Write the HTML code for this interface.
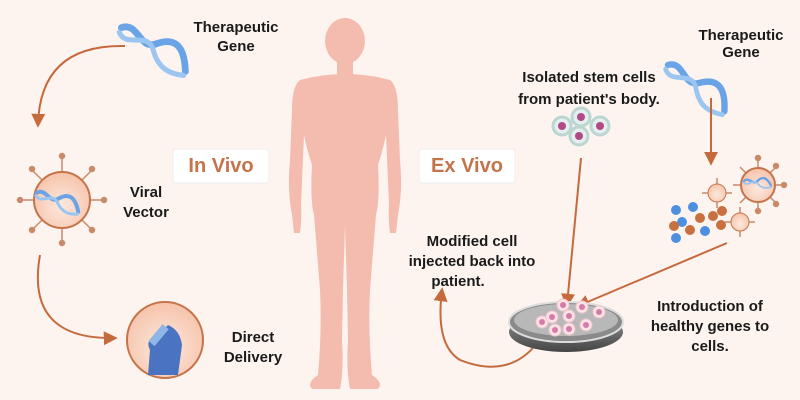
<!DOCTYPE html>
<html><head><meta charset="utf-8"><style>
html,body{margin:0;padding:0;background:#fdf4ef;}
svg{display:block}
text{font-family:"Liberation Sans","DejaVu Sans",sans-serif;font-weight:bold;fill:#1a1a1a;font-size:15px}
</style></head><body>
<svg width="800" height="400" viewBox="0 0 800 400" xmlns="http://www.w3.org/2000/svg">
<defs>
<marker id="ar" viewBox="0 0 10 10" refX="8" refY="5" markerWidth="7" markerHeight="7" orient="auto"><path d="M0,0L10,5L0,10z" fill="#c56a3d"/></marker>
<radialGradient id="cg" cx="50%" cy="60%" r="60%"><stop offset="0" stop-color="#fde9df"/><stop offset="1" stop-color="#f6c3aa"/></radialGradient>
<linearGradient id="dish" x1="0" x2="0" y1="0" y2="1"><stop offset="0" stop-color="#9a9a9a"/><stop offset="1" stop-color="#444"/></linearGradient>
<g id="dna"><path d="M0,10 C15,-5 30,25 45,10 S75,-5 90,25" stroke="#6aa4e6" stroke-width="8" fill="none" stroke-linecap="round"/><path d="M0,16 C15,30 30,0 45,18 S75,35 90,30" stroke="#9cc6f2" stroke-width="6" fill="none" stroke-linecap="round"/></g>
</defs>
<rect width="800" height="400" fill="#fdf4ef"/>
<!-- body -->
<g fill="#f4bcae">
<ellipse cx="345" cy="41" rx="20" ry="23"/>
<rect x="337" y="56" width="16" height="22"/>
<path d="M300,80 Q345,68 390,80 Q398,86 398,110 L400,160 Q403,190 398,215 L396,233 L390,233 Q388,220 389,205 L386,135 Q383,150 378,165 Q380,200 376,215 L370,290 Q368,330 372,375 Q384,383 378,389 L350,389 Q346,370 348,340 L347,290 L345,225 L343,290 L342,340 Q344,370 340,389 L312,389 Q306,383 318,375 Q322,330 320,290 L314,215 Q310,200 312,165 Q307,150 304,135 L301,205 Q302,220 300,233 L294,233 L292,215 Q287,190 290,160 L292,110 Q292,86 300,80z"/>
</g>
<!-- labels In Vivo / Ex Vivo -->
<rect x="173" y="149" width="96" height="34" rx="3" fill="#fff" stroke="#eee"/>
<text x="221" y="172" text-anchor="middle" style="font-size:20px;fill:#c5744a;font-weight:bold">In Vivo</text>
<rect x="419" y="149" width="96" height="34" rx="3" fill="#fff" stroke="#eee"/>
<text x="467" y="172" text-anchor="middle" style="font-size:20px;fill:#c5744a;font-weight:bold">Ex Vivo</text>
<!-- left dna -->
<use href="#dna" transform="translate(125,20) rotate(25) scale(0.85)"/>
<text x="236" y="32" text-anchor="middle">Therapeutic</text>
<text x="236" y="51" text-anchor="middle">Gene</text>
<path d="M125,46 Q40,44 38,125" stroke="#c56a3d" stroke-width="2" fill="none" marker-end="url(#ar)"/>
<!-- viral vector -->
<g stroke="#c98a6a" stroke-width="1.5" fill="#c98a6a">
<line x1="62" y1="157" x2="62" y2="243"/><line x1="20" y1="200" x2="104" y2="200"/>
<line x1="32" y1="170" x2="92" y2="230"/><line x1="92" y1="170" x2="32" y2="230"/>
<circle cx="62" cy="156" r="2.5"/><circle cx="62" cy="243" r="2.5"/><circle cx="20" cy="200" r="2.5"/><circle cx="104" cy="200" r="2.5"/>
<circle cx="32" cy="169" r="2.5"/><circle cx="92" cy="169" r="2.5"/><circle cx="32" cy="230" r="2.5"/><circle cx="92" cy="230" r="2.5"/>
</g>
<circle cx="62" cy="200" r="28" fill="url(#cg)" stroke="#c5744a" stroke-width="2"/>
<use href="#dna" transform="translate(38,188) rotate(15) scale(0.5)"/>
<text x="146" y="197" text-anchor="middle">Viral</text>
<text x="146" y="217" text-anchor="middle">Vector</text>
<path d="M40,255 Q25,340 115,338" stroke="#c56a3d" stroke-width="2" fill="none" marker-end="url(#ar)"/>
<!-- direct delivery -->
<circle cx="165" cy="340" r="38" fill="url(#cg)" stroke="#c5744a" stroke-width="2"/>
<path d="M148,375 L150,350 Q145,340 155,338 L168,325 Q180,330 182,345 L178,375z" fill="#4a73c2"/>
<rect x="155" y="325" width="8" height="22" fill="#8fb6e6" transform="rotate(40 160 335)"/>
<text x="253" y="342" text-anchor="middle">Direct</text>
<text x="253" y="362" text-anchor="middle">Delivery</text>
<!-- ex vivo right -->
<text x="741" y="40" text-anchor="middle">Therapeutic</text>
<text x="741" y="57" text-anchor="middle">Gene</text>
<use href="#dna" transform="translate(672,58) rotate(30) scale(0.8)"/>
<line x1="711" y1="98" x2="711" y2="163" stroke="#c56a3d" stroke-width="2" marker-end="url(#ar)"/>
<text x="589" y="82" text-anchor="middle">Isolated stem cells</text>
<text x="589" y="104" text-anchor="middle">from patient's body.</text>
<g stroke="#bcd6d2" stroke-width="3" fill="#e3f0ee">
<circle cx="581" cy="117" r="9"/><circle cx="562" cy="126" r="9"/><circle cx="600" cy="126" r="9"/><circle cx="579" cy="136" r="9"/>
</g>
<g fill="#b24a87"><circle cx="581" cy="117" r="4"/><circle cx="562" cy="126" r="4"/><circle cx="600" cy="126" r="4"/><circle cx="579" cy="136" r="4"/></g>
<line x1="581" y1="158" x2="567" y2="305" stroke="#c56a3d" stroke-width="2" marker-end="url(#ar)"/>
<!-- viruses cluster -->
<g stroke="#c98a6a" stroke-width="1.5" fill="#c98a6a">
<line x1="758" y1="160" x2="758" y2="210"/><line x1="733" y1="185" x2="783" y2="185"/><line x1="740" y1="167" x2="776" y2="203"/><line x1="776" y1="167" x2="740" y2="203"/>
<circle cx="758" cy="158" r="2.5"/><circle cx="758" cy="211" r="2.5"/><circle cx="784" cy="185" r="2.5"/><circle cx="776" cy="166" r="2.5"/><circle cx="776" cy="204" r="2.5"/>
<line x1="717" y1="178" x2="717" y2="208"/><line x1="702" y1="193" x2="732" y2="193"/>
<line x1="740" y1="207" x2="740" y2="237"/><line x1="725" y1="222" x2="755" y2="222"/>
</g>
<circle cx="758" cy="185" r="17" fill="url(#cg)" stroke="#c5744a" stroke-width="2"/>
<use href="#dna" transform="translate(744,178) scale(0.3)"/>
<circle cx="717" cy="193" r="9" fill="url(#cg)" stroke="#c5744a"/>
<circle cx="740" cy="222" r="9" fill="url(#cg)" stroke="#c5744a"/>
<g fill="#4d8fe0"><circle cx="676" cy="210" r="5"/><circle cx="693" cy="207" r="5"/><circle cx="682" cy="222" r="5"/><circle cx="705" cy="231" r="5"/><circle cx="676" cy="238" r="5"/></g>
<g fill="#c8703f"><circle cx="700" cy="218" r="5"/><circle cx="713" cy="216" r="5"/><circle cx="722" cy="211" r="5"/><circle cx="674" cy="226" r="5"/><circle cx="690" cy="230" r="5"/><circle cx="721" cy="225" r="5"/></g>
<line x1="727" y1="243" x2="578" y2="306" stroke="#c56a3d" stroke-width="2" marker-end="url(#ar)"/>
<text x="710" y="311" text-anchor="middle">Introduction of</text>
<text x="710" y="331" text-anchor="middle">healthy genes to</text>
<text x="710" y="351" text-anchor="middle">cells.</text>
<!-- dish -->
<ellipse cx="566" cy="332" rx="57" ry="20" fill="url(#dish)"/>
<ellipse cx="566" cy="322" rx="57" ry="20" fill="#8a8a8a" stroke="#ddd" stroke-width="2"/>
<ellipse cx="566" cy="320" rx="52" ry="16" fill="#b8b8b8"/>
<g fill="#fbe3e6" stroke="#f2c4cf" stroke-width="1">
<circle cx="563" cy="305" r="6"/><circle cx="582" cy="307" r="6"/><circle cx="599" cy="312" r="6"/><circle cx="542" cy="322" r="6"/><circle cx="552" cy="317" r="6"/><circle cx="569" cy="316" r="6"/><circle cx="555" cy="330" r="6"/><circle cx="569" cy="329" r="6"/><circle cx="586" cy="325" r="6"/>
</g>
<g fill="#d77aa9"><circle cx="563" cy="305" r="3"/><circle cx="582" cy="307" r="3"/><circle cx="599" cy="312" r="3"/><circle cx="542" cy="322" r="3"/><circle cx="552" cy="317" r="3"/><circle cx="569" cy="316" r="3"/><circle cx="555" cy="330" r="3"/><circle cx="569" cy="329" r="3"/><circle cx="586" cy="325" r="3"/></g>
<path d="M533,348 Q505,378 460,360 Q435,345 442,290" stroke="#c56a3d" stroke-width="2" fill="none" marker-end="url(#ar)"/>
<text x="472" y="246" text-anchor="middle">Modified cell</text>
<text x="472" y="266" text-anchor="middle">injected back into</text>
<text x="458" y="286" text-anchor="middle">patient.</text>
</svg>
</body></html>
